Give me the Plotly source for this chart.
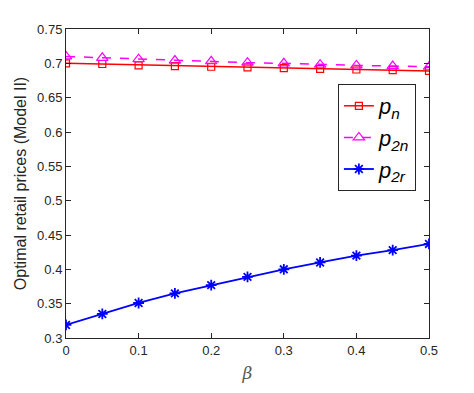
import plotly.graph_objects as go

beta = [0, 0.05, 0.1, 0.15, 0.2, 0.25, 0.3, 0.35, 0.4, 0.45, 0.5]
p_n = [0.700, 0.699, 0.697, 0.696, 0.695, 0.694, 0.693, 0.692, 0.691, 0.690, 0.689]
p_2n = [0.710, 0.708, 0.706, 0.704, 0.703, 0.701, 0.700, 0.698, 0.697, 0.696, 0.695]
p_2r = [0.319, 0.335, 0.351, 0.365, 0.377, 0.389, 0.400, 0.410, 0.420, 0.428, 0.437]
xticks = [0, 0.1, 0.2, 0.3, 0.4, 0.5]
yticks = [0.3, 0.35, 0.4, 0.45, 0.5, 0.55, 0.6, 0.65, 0.7, 0.75]

fig = go.Figure()
fig.add_trace(go.Scatter(x=beta, y=p_n, mode="lines+markers", name="<i>p<sub>n</sub></i>",
                         line=dict(color="#ff0000", width=1.5),
                         marker=dict(symbol="square-open", size=7, color="#ff0000", line=dict(width=1.2))))
fig.add_trace(go.Scatter(x=beta, y=p_2n, mode="lines+markers", name="<i>p<sub>2n</sub></i>",
                         line=dict(color="#ff00ff", width=1.5, dash="dash"),
                         marker=dict(symbol="triangle-up-open", size=10, color="#ff00ff", line=dict(width=1.2))))
fig.add_trace(go.Scatter(x=beta, y=p_2r, mode="lines+markers", name="<i>p<sub>2r</sub></i>",
                         line=dict(color="#0000ff", width=1.8),
                         marker=dict(symbol="asterisk-open", size=9, color="#0000ff", line=dict(width=1.8, color="#0000ff"))))

axis_common = dict(showline=True, linecolor="#262626", linewidth=1, mirror="ticks",
                   ticks="inside", ticklen=5, tickcolor="#262626", showgrid=False, zeroline=False,
                   tickfont=dict(family="Liberation Sans, Arial", size=13, color="#262626"))
fig.update_xaxes(range=[0, 0.5], tickvals=xticks, ticktext=[f"{v:g}" for v in xticks],
                 title=dict(text="<i>β</i>", font=dict(family="DejaVu Serif", size=17, color="#555555"), standoff=10),
                 **axis_common)
fig.update_yaxes(range=[0.3, 0.75], tickvals=yticks, ticktext=[f"{v:g}" for v in yticks],
                 title=dict(text="Optimal retail prices (Model II)", font=dict(family="Liberation Sans, Arial", size=16, color="#262626"), standoff=6),
                 **axis_common)
fig.update_layout(width=466, height=385, plot_bgcolor="white", paper_bgcolor="white",
                  margin=dict(l=55, r=45, t=21, b=55),
                  legend=dict(x=0.749, y=0.822, xanchor="left", yanchor="top",
                              bordercolor="#262626", borderwidth=1, bgcolor="white",
                              font=dict(family="Liberation Sans, Arial", size=22, color="black"),
                              tracegroupgap=0, itemwidth=30),
                  showlegend=True)
fig.write_html("out.html")
